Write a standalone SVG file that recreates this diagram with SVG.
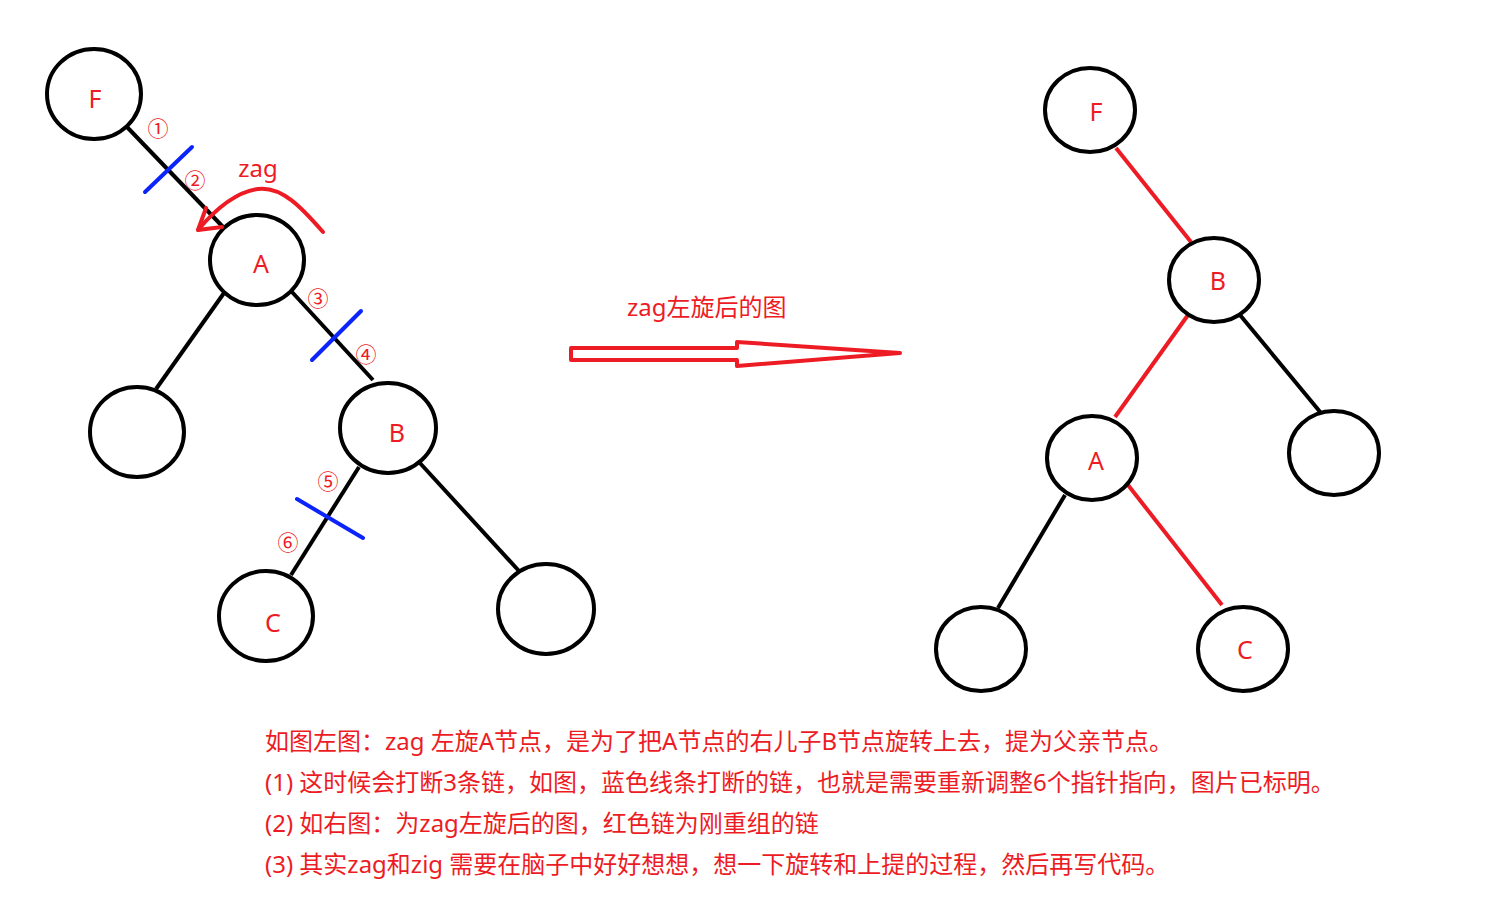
<svg xmlns="http://www.w3.org/2000/svg" width="1497" height="918" viewBox="0 0 1497 918">
<style>
  .node { fill: #ffffff; stroke: #000000; stroke-width: 4; }
  .lbl { fill: #ed1c24; font-family: "Noto Sans", "Noto Sans CJK SC", sans-serif; font-size: 25px; text-anchor: middle; }
  .num { fill: #ed1c24; font-family: "Noto Sans CJK SC", "DejaVu Sans", sans-serif; font-size: 21px; text-anchor: middle; }
  .txt { fill: #ed1c24; font-family: "Noto Sans", "Noto Sans CJK SC", sans-serif; font-size: 24px; }
  .blk { stroke: #000000; stroke-width: 4; fill: none; }
  .red { stroke: #ed1c24; stroke-width: 4; fill: none; }
  .blue { stroke: #0b24fb; stroke-width: 4; stroke-linecap: round; fill: none; }
</style>
<rect width="1497" height="918" fill="#ffffff"/>

<g id="connectors">
  <!-- left tree -->
  <line class="blk" x1="127" y1="127" x2="224" y2="228"/>
  <line class="blk" x1="224" y1="293" x2="156" y2="389"/>
  <line class="blk" x1="292" y1="292" x2="373" y2="380"/>
  <line class="blk" x1="359" y1="467" x2="291" y2="575"/>
  <line class="blk" x1="419" y1="462" x2="519" y2="571"/>
  <!-- break marks -->
  <line class="blue" x1="145" y1="192" x2="192" y2="147"/>
  <line class="blue" x1="312" y1="360" x2="361" y2="311"/>
  <line class="blue" x1="297" y1="499" x2="363" y2="538"/>
  <!-- right tree -->
  <line class="red" x1="1116" y1="148" x2="1191" y2="242"/>
  <line class="red" x1="1188" y1="315" x2="1115" y2="417"/>
  <line class="blk" x1="1240" y1="315" x2="1321" y2="413"/>
  <line class="blk" x1="1065" y1="495" x2="998" y2="608"/>
  <line class="red" x1="1128" y1="485" x2="1222" y2="605"/>
</g>

<g id="left-F">
  <ellipse class="node" cx="94" cy="94" rx="47" ry="45"/>
  <text class="lbl" x="95" y="108">F</text>
</g>
<g id="left-A">
  <ellipse class="node" cx="257" cy="260" rx="47" ry="45"/>
  <text class="lbl" x="261" y="273">A</text>
</g>
<g id="left-A-left">
  <ellipse class="node" cx="137" cy="432" rx="47" ry="45"/>
</g>
<g id="left-B">
  <ellipse class="node" cx="388" cy="428" rx="48" ry="45"/>
  <text class="lbl" x="397" y="442">B</text>
</g>
<g id="left-C">
  <ellipse class="node" cx="266" cy="616" rx="47" ry="45"/>
  <text class="lbl" x="273" y="632">C</text>
</g>
<g id="left-B-right">
  <ellipse class="node" cx="546" cy="609" rx="48" ry="45"/>
</g>

<g id="break-labels">
  <text class="num" x="158" y="136">①</text>
  <text class="num" x="195" y="188">②</text>
  <text class="num" x="318" y="306">③</text>
  <text class="num" x="366" y="362">④</text>
  <text class="num" x="328" y="489">⑤</text>
  <text class="num" x="288" y="550">⑥</text>
</g>

<g id="zag-arrow">
  <path class="red" d="M323 232 C302 208 282 186 258 189 C236 192 214 211 198 230" stroke-linecap="round"/>
  <path class="red" d="M206 208 L198 230 L222 227" stroke-linecap="round" stroke-linejoin="round"/>
  <text class="txt" x="258" y="177" text-anchor="middle">zag</text>
</g>

<g id="transform-arrow">
  <polygon points="571,348 737,348 737,342 900,353 737,366 737,360 571,360" fill="none" stroke="#ed1c24" stroke-width="4" stroke-linejoin="round"/>
  <text class="txt" x="627" y="316">zag左旋后的图</text>
</g>

<g id="right-F">
  <ellipse class="node" cx="1090" cy="110" rx="45" ry="42"/>
  <text class="lbl" x="1096" y="121">F</text>
</g>
<g id="right-B">
  <ellipse class="node" cx="1214" cy="280" rx="45" ry="42"/>
  <text class="lbl" x="1218" y="290">B</text>
</g>
<g id="right-A">
  <ellipse class="node" cx="1092" cy="458" rx="45" ry="42"/>
  <text class="lbl" x="1096" y="470">A</text>
</g>
<g id="right-B-right">
  <ellipse class="node" cx="1334" cy="453" rx="45" ry="42"/>
</g>
<g id="right-A-left">
  <ellipse class="node" cx="981" cy="649" rx="45" ry="42"/>
</g>
<g id="right-C">
  <ellipse class="node" cx="1243" cy="649" rx="45" ry="42"/>
  <text class="lbl" x="1245" y="659">C</text>
</g>

<g id="notes">
  <text class="txt" x="265" y="750">如图左图：zag 左旋A节点，是为了把A节点的右儿子B节点旋转上去，提为父亲节点。</text>
  <text class="txt" x="265" y="791">(1) 这时候会打断3条链，如图，蓝色线条打断的链，也就是需要重新调整6个指针指向，图片已标明。</text>
  <text class="txt" x="265" y="832">(2) 如右图：为zag左旋后的图，红色链为刚重组的链</text>
  <text class="txt" x="265" y="873">(3) 其实zag和zig 需要在脑子中好好想想，想一下旋转和上提的过程，然后再写代码。</text>
</g>
</svg>
